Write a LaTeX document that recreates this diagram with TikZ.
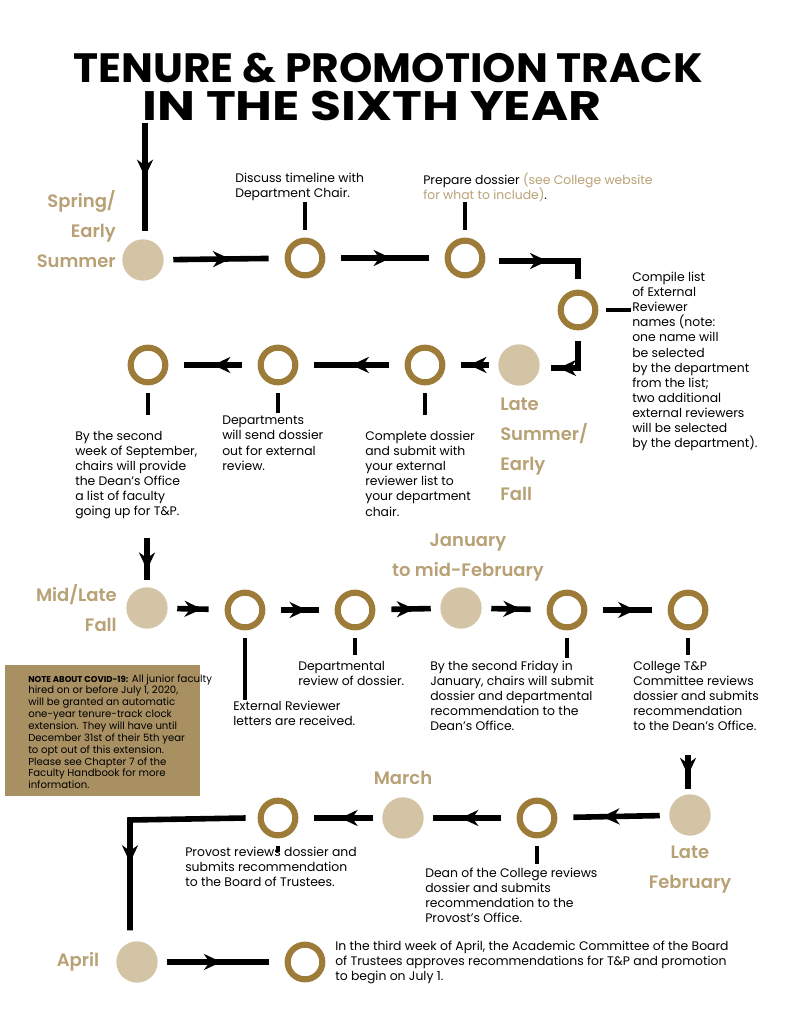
\documentclass[tikz,border=0pt]{standalone}
\usepackage{fontspec}
\setmainfont{Poppins}
\newfontfamily\semib{Poppins}[UprightFont=* SemiBold]
\usetikzlibrary{arrows.meta,decorations.markings}
\definecolor{ringc}{HTML}{9C7C38}
\definecolor{fillc}{HTML}{D3C4A5}
\definecolor{labc}{HTML}{B8A175}
\definecolor{boxc}{HTML}{A89062}
\begin{document}
\begin{tikzpicture}[x=0.75pt,y=-0.75pt,
 ring/.style={circle,draw=ringc,line width=4.6pt,minimum size=26pt,inner sep=0pt},
 dot/.style={circle,fill=fillc,minimum size=31pt,inner sep=0pt},
 flow/.style={line width=4.2pt},
 midarr/.style={postaction={decorate},decoration={markings,mark=at position #1 with {\arrow{Stealth[length=13pt,width=12pt]}}}},
 tick/.style={line width=2.6pt},
 txt/.style={anchor=north west,align=left,font=\fontsize{9.3}{11.3}\selectfont,inner sep=0pt},
 lab/.style={font=\semib\fontsize{13.5}{22.5}\selectfont,text=labc,inner sep=0pt}]
\useasboundingbox (0,0) rectangle (791,1024);
% title
\node (t1) at (388,68) {\resizebox{472pt}{22pt}{\bfseries TENURE \& PROMOTION TRACK}};
\node (t2) at (372,106) {\resizebox{344pt}{22pt}{\bfseries IN THE SIXTH YEAR}};
% row 1
\coordinate (s0) at (145,123);
\node[dot] (a1) at (143,260) {};
\node[ring] (a2) at (305,258) {};
\node[ring] (a3) at (465,258) {};
\node[ring] (a4) at (578,310) {};
\coordinate (c1) at (578,261);
\coordinate (c2) at (578,368);
\node[dot] (b1) at (519,365) {};
\node[ring] (b2) at (425,365) {};
\node[ring] (b3) at (278,365) {};
\node[ring] (b4) at (148,365) {};
\draw[flow,midarr=0.5] (s0) -- ([yshift=6pt]a1.north -| s0);
\draw[flow,midarr=0.55,shorten <=7pt,shorten >=12pt] (a1) -- (a2);
\draw[flow,midarr=0.55,shorten <=12pt,shorten >=12pt] (a2) -- (a3);
\draw[flow,midarr=0.5] ([xshift=10pt]a3.east |- c1) -- (c1) -- ([yshift=8pt]a4.north);
\draw[flow,midarr=0.85] ([yshift=-8pt]a4.south) -- (c2) -- ([xshift=8pt]b1.east |- c2);
\draw[flow,midarr=0.55,shorten <=7pt,shorten >=12pt] (b1) -- (b2);
\draw[flow,midarr=0.5,shorten <=12pt,shorten >=12pt] (b2) -- (b3);
\draw[flow,midarr=0.5,shorten <=12pt,shorten >=12pt] (b3) -- (b4);
% ticks row 1
\draw[tick] ([yshift=6pt]a2.north) -- ++(0,-28);
\draw[tick] ([yshift=6pt]a3.north) -- ++(0,-28);
\draw[tick] ([xshift=6pt]a4.east) -- ++(25,0);
\draw[tick] ([yshift=-6pt]b4.south) -- ++(0,22);
\draw[tick] ([yshift=-6pt]b3.south) -- ++(0,20);
\draw[tick] ([yshift=-6pt]b2.south) -- ++(0,22);
% labels row 1
\node[lab,align=right,anchor=north east] (l1) at (116,190) {Spring/\\Early\\Summer};
\node[txt] (x1) at (235,173) {Discuss timeline with\\Department Chair.};
\node[txt] (x2) at (423,173) {Prepare dossier \textcolor{labc}{(see College website}\\\textcolor{labc}{for what to include)}.};
\node[txt] (x3) at (632,272) {Compile list\\of External\\Reviewer\\names (note:\\one name will\\be selected\\by the department\\from the list;\\two additional\\external reviewers\\will be selected\\by the department).};
\node[txt] (x4) at (75,431) {By the second\\week of September,\\chairs will provide\\the Dean's Office\\a list of faculty\\going up for T\&P.};
\node[txt] (x5) at (222,416) {Departments\\will send dossier\\out for external\\review.};
\node[txt] (x6) at (365,431) {Complete dossier\\and submit with\\your external\\reviewer list to\\your department\\chair.};
\node[lab,align=left,anchor=north west] (l2) at (500,398) {Late\\Summer/\\Early\\Fall};
% row 3
\coordinate (s3) at (147,538);
\node[dot] (r1) at (147,608) {};
\node[ring] (r2) at (245,610) {};
\node[ring] (r3) at (355,610) {};
\node[dot] (r4) at (461,608) {};
\node[ring] (r5) at (567,610) {};
\node[ring] (r6) at (688,610) {};
\draw[flow,midarr=0.75] (s3) -- ([yshift=5pt]r1.north -| s3);
\draw[flow,midarr=0.6,shorten <=7pt,shorten >=12pt] (r1) -- (r2);
\draw[flow,midarr=0.6,shorten <=12pt,shorten >=12pt] (r2) -- (r3);
\draw[flow,midarr=0.6,shorten <=12pt,shorten >=7pt] (r3) -- (r4);
\draw[flow,midarr=0.6,shorten <=7pt,shorten >=12pt] (r4) -- (r5);
\draw[flow,midarr=0.6,shorten <=12pt,shorten >=12pt] (r5) -- (r6);
\draw[tick] ([yshift=-6pt]r2.south) -- ++(0,62);
\draw[tick] ([yshift=-6pt]r3.south) -- ++(0,17);
\draw[tick] ([yshift=-6pt]r5.south) -- ++(0,20);
\draw[tick] ([yshift=-6pt]r6.south) -- ++(0,17);
\node[lab,align=right,anchor=north east] (l3) at (117,584) {Mid/Late\\Fall};
\node[lab,align=center] (l4) at (468,558) {January\\to mid-February};
\node[txt] (x7) at (233,701) {External Reviewer\\letters are received.};
\node[txt] (x8) at (298,661) {Departmental\\review of dossier.};
\node[txt] (x9) at (430,661) {By the second Friday in\\January, chairs will submit\\dossier and departmental\\recommendation to the\\Dean's Office.};
\node[txt] (x10) at (633,661) {College T\&P\\Committee reviews\\dossier and submits\\recommendation\\to the Dean's Office.};
% covid box
\node[fill=boxc,minimum width=146pt,minimum height=98pt,anchor=north west,inner sep=0pt] (box) at (5,665) {};
\node[txt,font=\fontsize{7.6}{8.9}\selectfont] (xb) at (28,674) {{\bfseries\fontsize{6.4}{8.9}\selectfont NOTE ABOUT COVID-19:} All junior faculty\\hired on or before July 1, 2020,\\will be granted an automatic\\one-year tenure-track clock\\extension. They will have until\\December 31st of their 5th year\\to opt out of this extension.\\Please see Chapter 7 of the\\Faculty Handbook for more\\information.};
% row 4
\coordinate (s4) at (688,755);
\node[dot] (d1) at (690,815) {};
\node[ring] (d2) at (537,818) {};
\node[dot] (d3) at (403,818) {};
\node[ring] (d4) at (278,818) {};
\node[dot] (e1) at (137,962) {};
\node[ring] (e2) at (305,962) {};
\coordinate (c3) at (130,820);
\draw[flow,midarr=0.6] (s4) -- ([yshift=4pt]d1.north -| s4);
\draw[flow,midarr=0.6,shorten <=7pt,shorten >=12pt] (d1) -- (d2);
\draw[flow,midarr=0.6,shorten <=12pt,shorten >=7pt] (d2) -- (d3);
\draw[flow,midarr=0.5,shorten <=7pt,shorten >=12pt] (d3) -- (d4);
\draw[flow,midarr=0.7] ([xshift=-9pt]d4.west) -- (c3) -- ([yshift=8pt]e1.north -| c3);
\draw[flow,midarr=0.5,shorten <=7pt,shorten >=12pt] (e1) -- (e2);
\draw[tick] ([yshift=-6pt]d2.south) -- ++(0,18);
\draw[tick] ([yshift=-6pt]d4.south) -- ++(0,6);
\node[lab] (l5) at (403,778) {March};
\node[lab,align=center,anchor=north] (l6) at (690,846) {Late\\February};
\node[lab] (l7) at (78,962) {April};
\node[txt] (x11) at (185,847) {Provost reviews dossier and\\submits recommendation\\to the Board of Trustees.};
\node[txt] (x12) at (425,868) {Dean of the College reviews\\dossier and submits\\recommendation to the\\Provost's Office.};
\node[txt] (x13) at (335,941) {In the third week of April, the Academic Committee of the Board\\of Trustees approves recommendations for T\&P and promotion\\to begin on July 1.};
\end{tikzpicture}
\end{document}
